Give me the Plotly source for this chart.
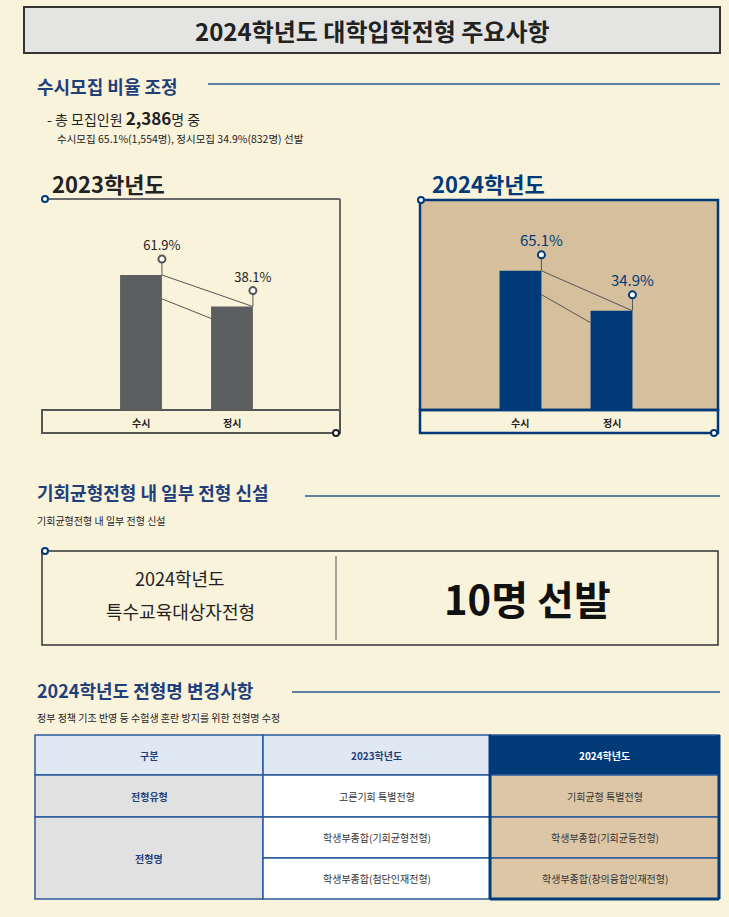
import plotly.graph_objects as go

W, H = 729, 917
cats = ["수시", "정시"]
vals_2023 = [61.9, 38.1]
vals_2024 = [65.1, 34.9]
total = "2,386"
table_head = ["구분", "2023학년도", "2024학년도"]
table_col0 = ["전형유형", "전형명"]
table_col1 = ["고른기회 특별전형", "학생부종합(기회균형전형)", "학생부종합(첨단인재전형)"]
table_col2 = ["기회균형 특별전형", "학생부종합(기회균등전형)", "학생부종합(창의융합인재전형)"]

NAVY = "#003a78"
GREY = "#5c5e5f"
BG = "#faf3dc"
TAN = "#d6bf9d"
FONT = "Noto Sans CJK KR"

def px(x): return x / W
def py(y): return 1 - y / H

fig = go.Figure()
shapes, ann = [], []

def rect(x0, y0, x1, y1, fill=None, line=None, lw=1.5):
    shapes.append(dict(type="rect", xref="paper", yref="paper", x0=px(x0), x1=px(x1), y0=py(y1), y1=py(y0),
                       fillcolor=fill or "rgba(0,0,0,0)", line=dict(color=line or "rgba(0,0,0,0)", width=lw if line else 0), layer="below"))

def line(x0, y0, x1, y1, color, lw=1.5):
    shapes.append(dict(type="line", xref="paper", yref="paper", x0=px(x0), x1=px(x1), y0=py(y0), y1=py(y1),
                       line=dict(color=color, width=lw)))

def dot(x, y, color):
    shapes.append(dict(type="circle", xref="paper", yref="paper", x0=px(x - 3), x1=px(x + 3), y0=py(y + 3), y1=py(y - 3),
                       fillcolor="white", line=dict(color=color, width=2)))

def text(x, y, s, size, color="#222", bold=False, anchor="left"):
    if bold:
        s = "<b>" + s + "</b>"
    ann.append(dict(x=px(x), y=py(y), xref="paper", yref="paper", text=s, showarrow=False, xanchor=anchor,
                    yanchor="middle", font=dict(size=size, color=color, family=FONT)))

# title
rect(24, 7, 720, 53, fill="#e4e4e2", line="#333", lw=2)
text(372, 30, "2024학년도 대학입학전형 주요사항", 24, "#222", True, "center")

# section 1
text(35, 86, "수시모집 비율 조정", 18, "#1f3f7a", True)
line(208, 84, 720, 84, "#2a5a8f")
text(45, 117, "- 총 모집인원 <b><span style='font-size:17px'>" + total + "</span></b>명 중", 14, "#222")
text(55, 138, "수시모집 65.1%(1,554명), 정시모집 34.9%(832명) 선발", 10.5, "#222")
text(50, 183, "2023학년도", 22, "#222", True)
text(430, 183, "2024학년도", 22, NAVY, True)

# left frame
line(45, 199, 340, 199, "#6a6a6a", 2)
line(340, 199, 340, 410, "#6a6a6a", 2)
rect(42, 410, 340, 433, line="#555", lw=2)
dot(45, 199, NAVY)
dot(336, 433, "#222")
# right frame
rect(420, 200, 718, 410, fill=TAN, line=NAVY, lw=2.5)
rect(420, 410, 718, 433, line=NAVY, lw=2.5)
dot(421, 200, NAVY)
dot(714, 433, NAVY)
for cx in (141, 232):
    text(cx, 422, cats[(cx > 200)], 10, "#222", True, "center")
for cx in (520, 612):
    text(cx, 422, cats[(cx > 560)], 10, "#222", True, "center")

# bars
BASE = -40
for i, (vals, col, tcol) in enumerate([(vals_2023, GREY, "#222"), (vals_2024, NAVY, NAVY)]):
    xa = "x" if i == 0 else "x2"
    ya = "y" if i == 0 else "y2"
    fig.add_trace(go.Bar(x=[0, 1], y=[v - BASE for v in vals], base=BASE, width=0.46, marker=dict(color=col, line_width=0),
                         xaxis=xa, yaxis=ya, hoverinfo="skip"))
    edge = [0.23, 1.23]
    fig.add_trace(go.Scatter(x=edge, y=vals, mode="lines", line=dict(color="#555", width=1), xaxis=xa, yaxis=ya))
    fig.add_trace(go.Scatter(x=[0.23, 0.77], y=[vals[0] - 18, vals[1] - 9], mode="lines", line=dict(color="#555", width=1),
                             xaxis=xa, yaxis=ya))
    for e, v in zip(edge, vals):
        fig.add_trace(go.Scatter(x=[e, e], y=[v, v + 12], mode="lines", line=dict(color="#555", width=1), xaxis=xa, yaxis=ya))
    fig.add_trace(go.Scatter(x=edge, y=[v + 12 for v in vals], mode="markers+text", text=[f"{v}%" for v in vals],
                             textposition="top center", textfont=dict(size=13 if i == 0 else 15, color=tcol, family=FONT),
                             marker=dict(size=7, color="white", line=dict(color=tcol if i else "#555", width=2)),
                             xaxis=xa, yaxis=ya, cliponaxis=False))

# section 2
text(35, 492, "기회균형전형 내 일부 전형 신설", 18, "#1f3f7a", True)
line(305, 496, 720, 496, "#2a5a8f")
text(35, 520, "기회균형전형 내 일부 전형 신설", 10, "#222")
rect(42, 551, 718, 645, line="#333", lw=1.5)
dot(45, 551, NAVY)
line(336, 556, 336, 640, "#555", 1)
text(180, 578, "2024학년도", 18, "#222", False, "center")
text(180, 611, "특수교육대상자전형", 18, "#222", False, "center")
text(527, 598, "10명 선발", 40, "#111", True, "center")

# section 3
text(35, 690, "2024학년도 전형명 변경사항", 18, "#1f3f7a", True)
line(292, 692, 720, 692, "#2a5a8f")
text(35, 717, "정부 정책 기조 반영 등 수험생 혼란 방지를 위한 전형명 수정", 10, "#222")

cols = [35, 263, 490, 719]
rows = [735, 775, 817, 858, 899]
BL = "#2a5a9a"
for j in range(3):
    rect(cols[j], rows[0], cols[j + 1], rows[1], fill=NAVY if j == 2 else "#dfe8f3", line=BL, lw=1.5)
    text((cols[j] + cols[j + 1]) / 2, (rows[0] + rows[1]) / 2, table_head[j], 10, "white" if j == 2 else "#1f3f7a", True, "center")
rect(cols[0], rows[1], cols[1], rows[2], fill="#e1e1e1", line=BL)
rect(cols[0], rows[2], cols[1], rows[4], fill="#e1e1e1", line=BL)
text((cols[0] + cols[1]) / 2, (rows[1] + rows[2]) / 2, table_col0[0], 10, "#1f3f7a", True, "center")
text((cols[0] + cols[1]) / 2, (rows[2] + rows[4]) / 2, table_col0[1], 10, "#1f3f7a", True, "center")
for r in range(3):
    rect(cols[1], rows[r + 1], cols[2], rows[r + 2], fill="white", line=BL)
    rect(cols[2], rows[r + 1], cols[3], rows[r + 2], fill="#dcc6a6", line=BL)
    text((cols[1] + cols[2]) / 2, (rows[r + 1] + rows[r + 2]) / 2, table_col1[r], 10, "#333", False, "center")
    text((cols[2] + cols[3]) / 2, (rows[r + 1] + rows[r + 2]) / 2, table_col2[r], 10, "#333", False, "center")
line(490, 735, 490, 899, NAVY, 3)
line(719, 735, 719, 899, NAVY, 3)
line(490, 899, 719, 899, NAVY, 3)

ax = dict(showgrid=False, zeroline=False, showticklabels=False, fixedrange=True)
fig.update_layout(
    width=W, height=H, margin=dict(l=0, r=0, t=0, b=0), paper_bgcolor=BG, plot_bgcolor="rgba(0,0,0,0)",
    showlegend=False, shapes=shapes, annotations=ann, font=dict(family=FONT),
    xaxis=dict(ax, domain=[px(42), px(340)], range=[-1.088, 2.187]),
    xaxis2=dict(ax, domain=[px(420), px(718)], range=[-1.104, 2.17]),
    yaxis=dict(ax, domain=[py(410), py(200)], range=[BASE, 118.5]),
    yaxis2=dict(ax, domain=[py(410), py(200)], range=[BASE, 118.5]),
)
fig.write_html("out.html", config={"displayModeBar": False},
               post_script="document.body.style.margin='0';document.body.style.overflow='hidden';document.body.style.background='" + BG + "';")
